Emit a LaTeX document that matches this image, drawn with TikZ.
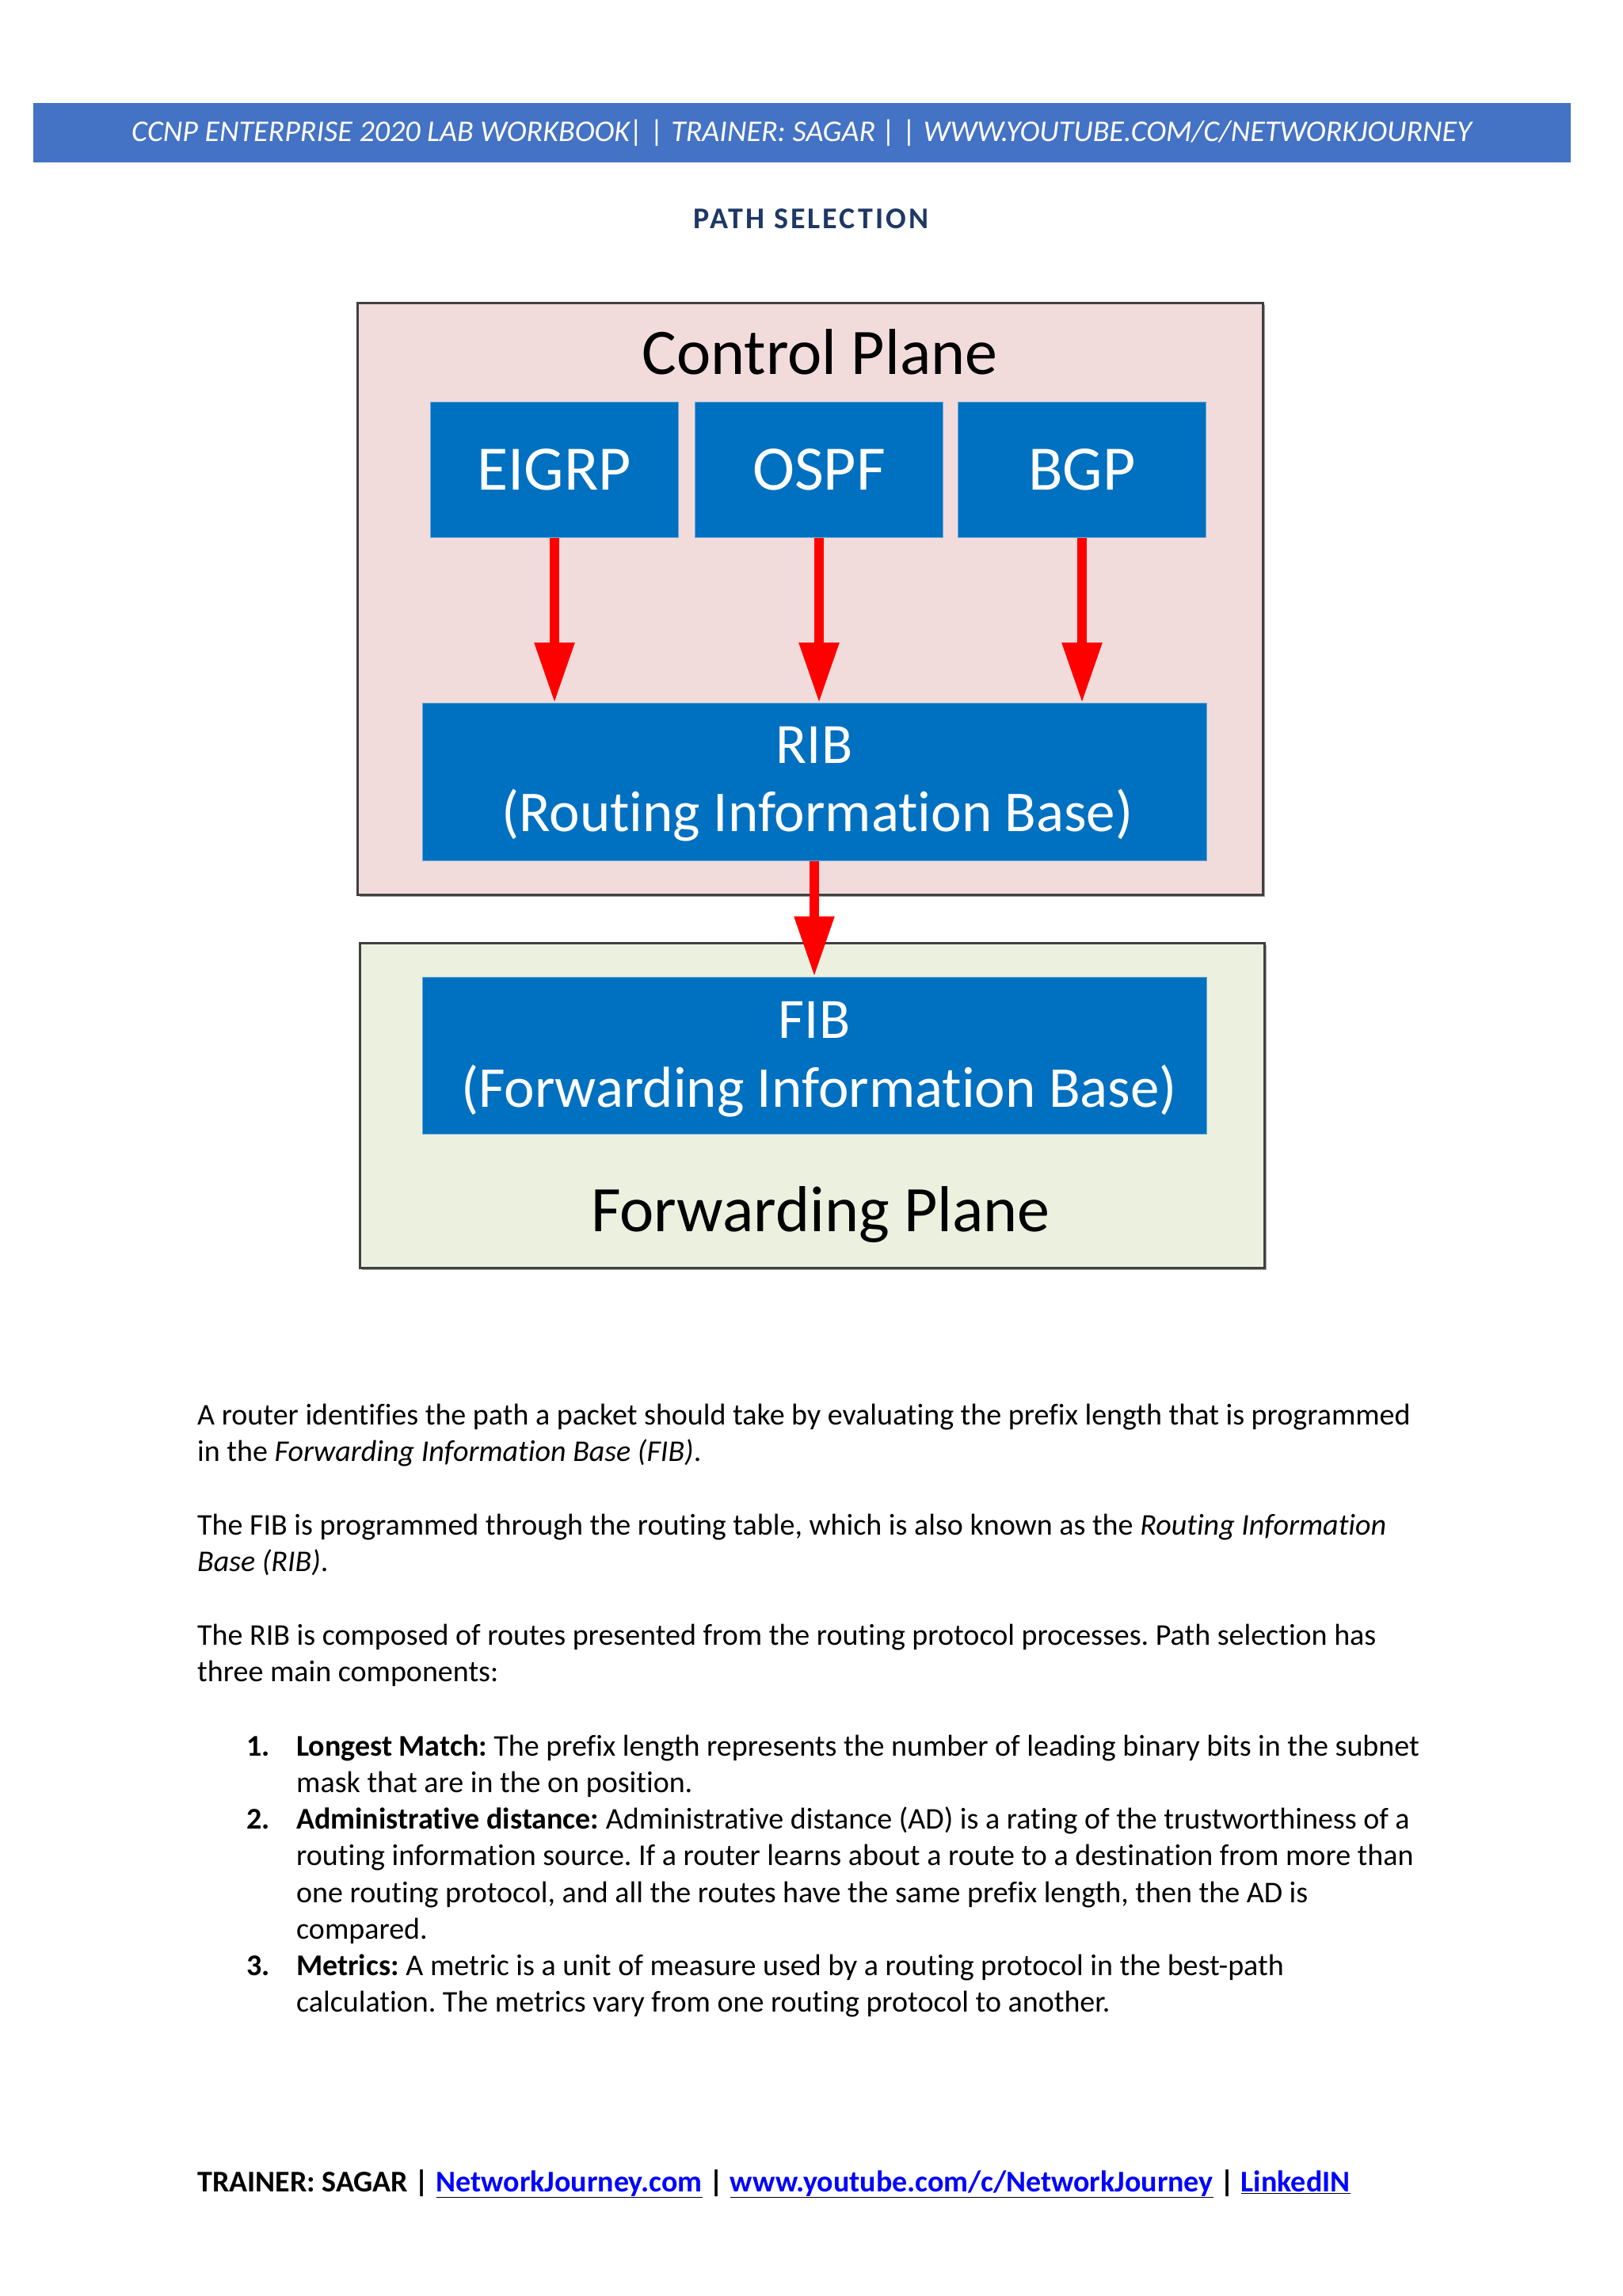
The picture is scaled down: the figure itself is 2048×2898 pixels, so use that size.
\documentclass[tikz,border=0pt]{standalone}
\usepackage{fontspec}
\setmainfont{Carlito}[Ligatures=CommonOff]
\usetikzlibrary{arrows.meta,shadows}
\definecolor{hdrblue}{HTML}{4472C4}
\definecolor{boxblue}{HTML}{0070C0}
\definecolor{cpfill}{HTML}{F2DCDB}
\definecolor{fpfill}{HTML}{EBF1DE}
\definecolor{titleblue}{HTML}{1F3864}
\definecolor{linkblue}{HTML}{0000FF}
\newcommand{\fs}[1]{\fontsize{#1}{#1}\selectfont}
\newcommand{\lnk}[1]{\underline{\textcolor{linkblue}{#1}}}
\frenchspacing
\begin{document}
\begin{tikzpicture}[x=1pt,y=-1pt,
  plane/.style={draw=black!75,line width=3pt,drop shadow={shadow xshift=3pt,shadow yshift=-3pt,fill=black!45,opacity=0.8}},
  proto/.style={fill=boxblue,draw=boxblue!60!white,line width=1pt,text=white,inner sep=0pt},
  redarrow/.style={draw=red,line width=12pt,-{Triangle[length=76pt,width=48pt]}},
  body/.style={anchor=base west,inner sep=0pt,font=\fs{38}},
  every node/.style={inner sep=0pt}]
\useasboundingbox (0,0) rectangle (2048,2898);
\fill[white] (0,0) rectangle (2048,2898);
% header
\fill[hdrblue] (42,130) rectangle (1983,205);
\node[text=white,font=\fs{38}\itshape] (hdr) at (1012,168) {CCNP ENTERPRISE 2020 LAB WORKBOOK| | TRAINER: SAGAR | | WWW.YOUTUBE.COM/C/NETWORKJOURNEY};
\node[text=titleblue,font=\fs{38}\bfseries\addfontfeatures{LetterSpace=8}] (title) at (1024,276) {PATH SELECTION};
% planes
\draw[plane,fill=cpfill] (451,382) rectangle (1594,1129);
\draw[plane,fill=fpfill] (454,1190) rectangle (1596,1600);
\node[font=\fs{82}] (cp) at (1035,444) {Control Plane};
\node[font=\fs{82}] (fp) at (1036,1533) {Forwarding Plane};
% protocol boxes
\node[proto,minimum width=313pt,minimum height=171pt,font=\fs{80}] (eigrp) at (700,593) {EIGRP};
\node[proto,minimum width=313pt,minimum height=171pt,font=\fs{80}] (ospf) at (1034,593) {OSPF};
\node[proto,minimum width=313pt,minimum height=171pt,font=\fs{80}] (bgp) at (1366,593) {BGP};
\node[proto,minimum width=990pt,minimum height=199pt] (rib) at (1028,987) {};
\node[text=white,font=\fs{72}] (ribt) at (1028,940) {RIB};
\node[text=white,font=\fs{73}] (ribl) at (1032,1029) {(Routing Information Base)};
\node[proto,minimum width=990pt,minimum height=198pt] (fib) at (1028,1332) {};
\node[text=white,font=\fs{72}] (fibt) at (1028,1287) {FIB};
\node[text=white,font=\fs{73}] (fibl) at (1034,1377) {(Forwarding Information Base)};
% arrows
\draw[redarrow] (eigrp.south) -- (eigrp.south |- rib.north);
\draw[redarrow] (ospf.south) -- (ospf.south |- rib.north);
\draw[redarrow] (bgp.south) -- (bgp.south |- rib.north);
\draw[redarrow] (rib.south) -- (fib.north);
% body text
\node[body] (p1a) at (249,1798) {A router identifies the path a packet should take by evaluating the prefix length that is programmed};
\node[body] (p1b) at (249,1844) {in the \textit{Forwarding Information Base (FIB)}.};
\node[body] (p2a) at (249,1937) {The FIB is programmed through the routing table, which is also known as the \textit{Routing Information}};
\node[body] (p2b) at (249,1983) {\textit{Base (RIB)}.};
\node[body] (p3a) at (249,2076) {The RIB is composed of routes presented from the routing protocol processes. Path selection has};
\node[body] (p3b) at (249,2122) {three main components:};
\node[body] (n1) at (311,2216) {\textbf{1.}};
\node[body] (l1a) at (374,2216) {\textbf{Longest Match:} The prefix length represents the number of leading binary bits in the subnet};
\node[body] (l1b) at (374,2262) {mask that are in the on position.};
\node[body] (n2) at (311,2308) {\textbf{2.}};
\node[body] (l2a) at (374,2308) {\textbf{Administrative distance:} Administrative distance (AD) is a rating of the trustworthiness of a};
\node[body] (l2b) at (374,2354) {routing information source. If a router learns about a route to a destination from more than};
\node[body] (l2c) at (374,2401) {one routing protocol, and all the routes have the same prefix length, then the AD is};
\node[body] (l2d) at (374,2447) {compared.};
\node[body] (n3) at (311,2493) {\textbf{3.}};
\node[body] (l3a) at (374,2493) {\textbf{Metrics:} A metric is a unit of measure used by a routing protocol in the best-path};
\node[body] (l3b) at (374,2539) {calculation. The metrics vary from one routing protocol to another.};
% footer
\node[body,font=\fs{38}\bfseries] (foot) at (249,2766) {TRAINER: SAGAR | \lnk{NetworkJourney.com} | \lnk{www.youtube.com/c/NetworkJourney} | \lnk{LinkedIN}};
\end{tikzpicture}
\end{document}
